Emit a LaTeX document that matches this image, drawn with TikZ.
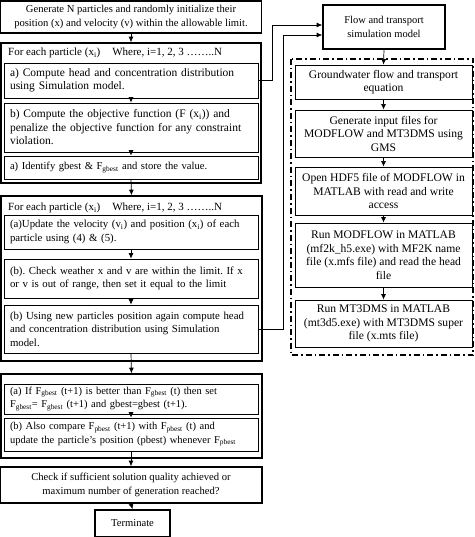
\documentclass[tikz,border=0pt]{standalone}
\usepackage{fontspec}
\setmainfont{Liberation Serif}
\usetikzlibrary{arrows.meta}
\frenchspacing

\begin{document}
\begin{tikzpicture}[x=1pt, y=-1pt,
    every node/.style={font=\fontsize{10.6}{13.5}\selectfont, inner sep=0pt},
    outer/.style={draw, line width=1.6pt},
    inbox/.style={draw, line width=0.9pt, text width=242pt, inner xsep=6pt, align=left, minimum width=254pt},
    rbox/.style={draw, line width=0.9pt, align=center, minimum width=177pt, font=\fontsize{11.6}{13.5}\selectfont},
    arr/.style={-{Latex[length=5.5pt,width=5pt]}, line width=0.7pt}]
  \useasboundingbox (0,0) rectangle (474,537);
  % optimisation loop
  \node[outer, minimum width=261pt, minimum height=32pt, align=center] (gen) at (131,17)
    {Generate N particles and randomly initialize their\\position (x) and velocity (v) within the allowable limit.};
  \node[outer, minimum width=260pt, minimum height=140pt] (loopA) at (131,113) {};
  \node[anchor=base west, font=\fontsize{11}{13.5}\selectfont] (eachA) at (8,56)
    {For each particle (x\textsubscript{i})\hspace{12pt}Where, i=1, 2, 3 ……..N};
  \node[inbox, minimum height=35pt, font=\fontsize{11.5}{13.5}\selectfont] (ca) at (131,80.5)
    {a) Compute head and concentration distribution\\using Simulation model.};
  \node[inbox, minimum height=49pt, font=\fontsize{11.5}{13.5}\selectfont] (cb) at (131,127.5)
    {b) Compute the objective function (F (x\textsubscript{i})) and\\penalize the objective function for any constraint\\violation.};
  \node[inbox, minimum height=23pt] (cc) at (131,167.5)
    {a) Identify gbest \& F\textsubscript{gbest} and store the value.};
  \node[outer, minimum width=261pt, minimum height=165pt] (loopB) at (131.5,278.5) {};
  \node[anchor=base west, font=\fontsize{11}{13.5}\selectfont] (eachB) at (8,211)
    {For each particle (x\textsubscript{i})\hspace{12pt}Where, i=1, 2, 3 ……..N};
  \node[inbox, minimum height=34pt, font=\fontsize{10.8}{13.5}\selectfont] (ua) at (131,232)
    {(a)Update the velocity (v\textsubscript{i}) and position (x\textsubscript{i}) of each\\particle using (4) \& (5).};
  \node[inbox, minimum height=39pt, font=\fontsize{10.8}{13.5}\selectfont] (ub) at (131,278.5)
    {(b). Check weather x and v are within the limit. If x\\or v is out of range, then set it equal to the limit};
  \node[inbox, minimum height=48pt, font=\fontsize{10.8}{13.5}\selectfont] (uc) at (131,329)
    {(b) Using new particles position again compute head\\and concentration distribution using Simulation\\model.};
  \node[outer, minimum width=261pt, minimum height=84pt] (loopC) at (131.5,416) {};
  \node[inbox, minimum height=30pt, font=\fontsize{10.5}{13.5}\selectfont] (fa) at (131,399)
    {(a) If F\textsubscript{gbest} (t+1) is better than F\textsubscript{gbest} (t) then set\\F\textsubscript{gbest}= F\textsubscript{gbest} (t+1) and gbest=gbest (t+1).};
  \node[inbox, minimum height=33pt, font=\fontsize{10.5}{13.5}\selectfont] (fb) at (131,434.5)
    {(b) Also compare F\textsubscript{pbest} (t+1) with F\textsubscript{pbest} (t) and\\update the particle’s position (pbest) whenever F\textsubscript{pbest}};
  \node[outer, minimum width=262pt, minimum height=36pt, align=center, font=\fontsize{10.6}{14}\selectfont] (check) at (131,485)
    {Check if sufficient solution quality achieved or\\maximum number of generation reached?};
  \node[outer, minimum width=75pt, minimum height=27pt] (term) at (132.5,523.5) {Terminate};
  % simulation model
  \node[outer, minimum width=122pt, minimum height=44pt, align=center, font=\fontsize{10.5}{14}\selectfont] (flow) at (384,27)
    {Flow and transport\\simulation model};
  \draw[line width=1.6pt, dash pattern=on 6pt off 3pt on 1.5pt off 3pt] (291,59) rectangle (473,355);
  \node[rbox, minimum height=34pt] (gw) at (383.5,82) {Groundwater flow and transport\\equation};
  \node[rbox, minimum height=47pt] (inp) at (383.5,133.5) {Generate input files for\\MODFLOW and MT3DMS using\\GMS};
  \node[rbox, minimum height=48pt] (hdf) at (383.5,191) {Open HDF5 file of MODFLOW in\\MATLAB with read and write\\access};
  \node[rbox, minimum height=64pt] (runmf) at (383.5,255)
    {Run MODFLOW in MATLAB\\(mf2k\_h5.exe) with MF2K name\\file (x.mfs file) and read the head\\file};
  \node[rbox, minimum height=47pt] (runmt) at (383.5,323.5)
    {Run MT3DMS in MATLAB\\(mt3d5.exe) with MT3DMS super\\file (x.mts file)};
  % arrows
  \foreach \a/\b in {gen/loopA, ca/cb, cb/cc, cc/loopB, ua/ub, ub/uc, uc/loopC, fa/fb, fb/check, check/term,
      flow/gw, gw/inp, inp/hdf, hdf/runmf, runmf/runmt}
    \draw[arr] (\a.south) -- (\b.north);
  \draw[arr] (ca.east) -- ++(14,0) |- ([yshift=2pt]flow.west);
  \draw[arr] (uc.east) -- ++(25,0) |- ([yshift=-8pt]flow.west);
\end{tikzpicture}
\end{document}
